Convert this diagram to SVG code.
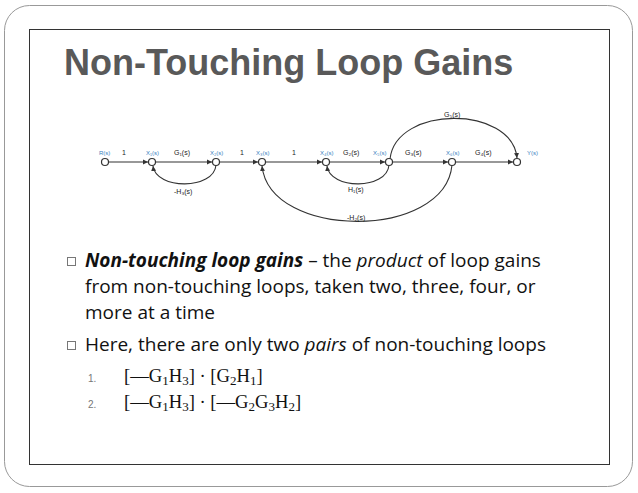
<svg xmlns="http://www.w3.org/2000/svg" width="638" height="493" viewBox="0 0 638 493">
<style>
.n{fill:#fff;stroke:#333;stroke-width:1.2}
.c{fill:none;stroke:#333;stroke-width:1.1}
.lb{font-family:"Liberation Sans",Arial,sans-serif;font-size:7px;fill:#222}
.nl{font-family:"Liberation Sans",Arial,sans-serif;font-size:6px;fill:#3a7fc0}
.t{font-family:"Open Sans","Liberation Sans",sans-serif;font-size:19px;fill:#111}
.m{font-family:"Liberation Serif",serif;font-size:18.6px;fill:#111}
.num{font-family:"Liberation Sans",sans-serif;font-size:10px;fill:#777}
</style>
<defs><marker id="a" markerWidth="6" markerHeight="6" refX="5" refY="3" orient="auto" markerUnits="userSpaceOnUse"><path d="M0,0.5 L5,3 L0,5.5z" fill="#333"/></marker></defs>
<rect width="638" height="493" fill="#fff"/>
<rect x="4.5" y="5.5" width="628" height="481" rx="25" fill="none" stroke="#999" stroke-width="1"/>
<rect x="29.5" y="29.5" width="580" height="435" fill="none" stroke="#333" stroke-width="1"/>
<text x="64" y="75" font-family="Liberation Sans,Arial,sans-serif" font-weight="bold" font-size="36" fill="#595959">Non-Touching Loop Gains</text>
<g id="connectors">
<path class="c" d="M108,162H148" marker-end="url(#a)"/>
<path class="c" d="M155,162H212" marker-end="url(#a)"/>
<path class="c" d="M219,162H258" marker-end="url(#a)"/>
<path class="c" d="M265,162H322" marker-end="url(#a)"/>
<path class="c" d="M329,162H385" marker-end="url(#a)"/>
<path class="c" d="M392,162H448" marker-end="url(#a)"/>
<path class="c" d="M455,162H513" marker-end="url(#a)"/>
<path class="c" d="M216,165C214,190 156,190 153,166" marker-end="url(#a)"/>
<path class="c" d="M389,165C387,190 330,190 327,166" marker-end="url(#a)"/>
<path class="c" d="M452,165C445,240 270,240 262,166" marker-end="url(#a)"/>
<path class="c" d="M390,159C396,105 512,105 517,158" marker-end="url(#a)"/>
</g>
<g id="nodes">
<g id="R"><circle class="n" cx="105" cy="162" r="3.5"/><text class="nl" x="99" y="155">R(s)</text><text class="lb" x="122" y="155">1</text></g>
<g id="X1"><circle class="n" cx="152" cy="162" r="3.5"/><text class="nl" x="146" y="155">X₁(s)</text><text class="lb" x="174" y="155">G₁(s)</text></g>
<g id="X2"><circle class="n" cx="216" cy="162" r="3.5"/><text class="nl" x="210" y="155">X₂(s)</text><text class="lb" x="240" y="155">1</text></g>
<g id="X3"><circle class="n" cx="262" cy="162" r="3.5"/><text class="nl" x="256" y="155">X₃(s)</text><text class="lb" x="292" y="155">1</text></g>
<g id="X4"><circle class="n" cx="326" cy="162" r="3.5"/><text class="nl" x="320" y="155">X₄(s)</text><text class="lb" x="343" y="155">G₂(s)</text></g>
<g id="X5"><circle class="n" cx="389" cy="162" r="3.5"/><text class="nl" x="373" y="155">X₅(s)</text><text class="lb" x="405" y="155">G₃(s)</text></g>
<g id="X6"><circle class="n" cx="452" cy="162" r="3.5"/><text class="nl" x="446" y="155">X₆(s)</text><text class="lb" x="475" y="155">G₄(s)</text></g>
<g id="Y"><circle class="n" cx="517" cy="162" r="3.5"/><text class="nl" x="527" y="155">Y(s)</text></g>
<text class="lb" x="444" y="117">G₅(s)</text>
<text class="lb" x="174" y="194">-H₃(s)</text>
<text class="lb" x="348" y="192">H₁(s)</text>
<text class="lb" x="347" y="220">-H₂(s)</text>
</g>
<g id="text">
<rect x="67.5" y="257.5" width="8" height="8" fill="none" stroke="#777"/>
<text class="t" x="85" y="267"><tspan font-weight="bold" font-style="italic">Non-touching loop gains</tspan> – the <tspan font-style="italic">product</tspan> of loop gains</text>
<text class="t" x="85" y="293">from non-touching loops, taken two, three, four, or</text>
<text class="t" x="85" y="319">more at a time</text>
<rect x="67.5" y="341.5" width="8" height="8" fill="none" stroke="#777"/>
<text class="t" x="85" y="351">Here, there are only two <tspan font-style="italic">pairs</tspan> of non-touching loops</text>
<text class="num" x="88" y="382">1.</text>
<text class="m" x="124" y="382">[—G<tspan font-size="13" dy="3">1</tspan><tspan dy="-3">H</tspan><tspan font-size="13" dy="3">3</tspan><tspan dy="-3">] · [G</tspan><tspan font-size="13" dy="3">2</tspan><tspan dy="-3">H</tspan><tspan font-size="13" dy="3">1</tspan><tspan dy="-3">]</tspan></text>
<text class="num" x="88" y="408">2.</text>
<text class="m" x="124" y="408">[—G<tspan font-size="13" dy="3">1</tspan><tspan dy="-3">H</tspan><tspan font-size="13" dy="3">3</tspan><tspan dy="-3">] · [—G</tspan><tspan font-size="13" dy="3">2</tspan><tspan dy="-3">G</tspan><tspan font-size="13" dy="3">3</tspan><tspan dy="-3">H</tspan><tspan font-size="13" dy="3">2</tspan><tspan dy="-3">]</tspan></text>
</g>
</svg>
